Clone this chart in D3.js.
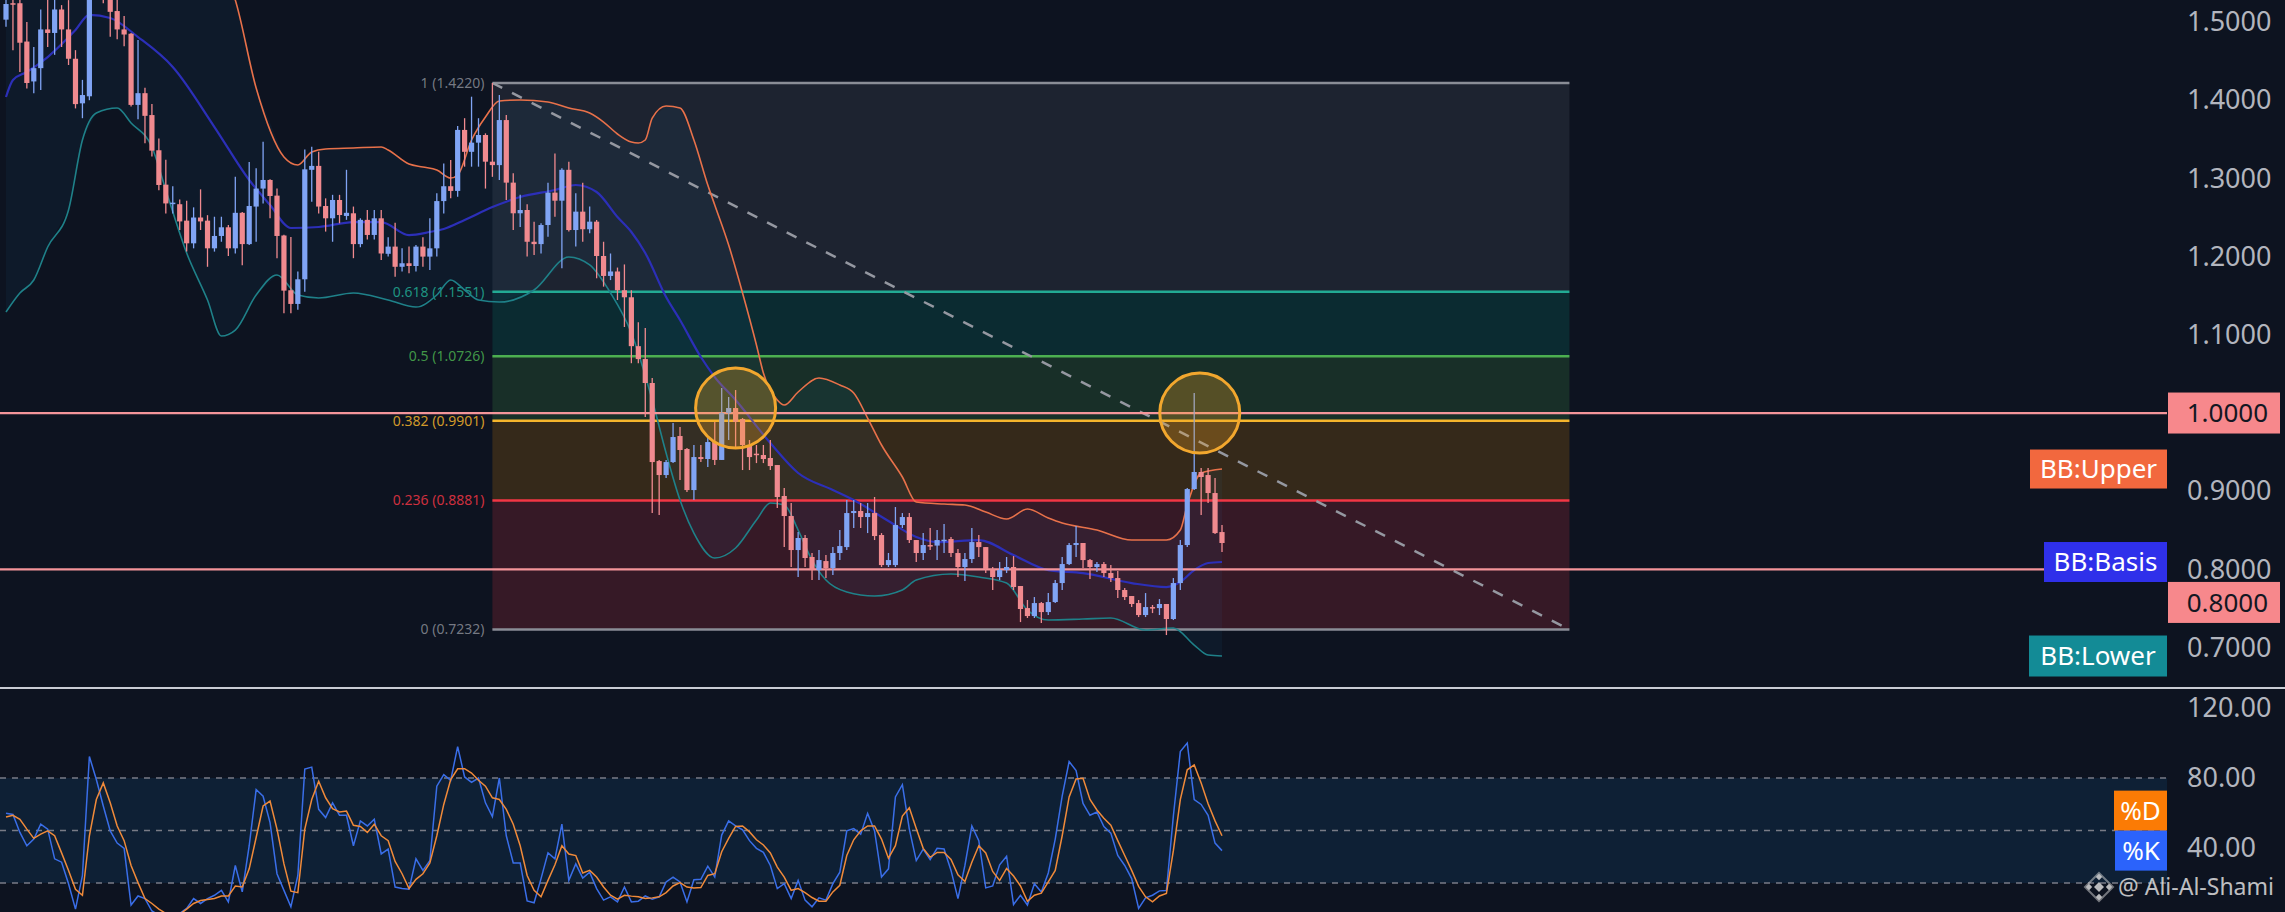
<!DOCTYPE html>
<html>
<head>
<meta charset="utf-8">
<script src="https://cdn.jsdelivr.net/npm/d3@7"></script>
<style>
  html, body { margin: 0; padding: 0; background: #0d1320; }
  svg { display: block; }
</style>
</head>
<body>
<div id="chart"></div>
<script>
// Candles (index 0..175)
const opens = [1.503,1.524,1.524,1.475,1.424,1.441,1.4905,1.486,1.516,1.4905,
  1.453,1.396,1.405,1.535,1.560,1.545,1.514,1.4905,1.485,1.394,
  1.409,1.381,1.336,1.292,1.268,1.267,1.246,1.217,1.250,1.246,
  1.2106,1.2264,1.2375,1.2106,1.256,1.216,1.264,1.287,1.298,1.278,
  1.227,1.157,1.1395,1.171,1.311,1.316,1.2647,1.249,1.2724,1.252,
  1.2554,1.216,1.247,1.2277,1.249,1.2036,1.2128,1.187,1.1915,1.188,
  1.2128,1.200,1.2106,1.271,1.290,1.284,1.362,1.334,1.3457,1.3555,
  1.3214,1.317,1.3746,1.2946,1.2554,1.2596,1.219,1.216,1.2404,1.2818,
  1.2715,1.311,1.234,1.2575,1.235,1.2447,1.2008,1.1753,1.181,1.157,
  1.148,1.0855,1.069,1.0384,0.9386,0.9207,0.9373,0.9706,0.954,0.9015,
  0.9437,0.9412,0.9629,0.940,1.000,1.0064,0.9923,0.9591,0.948,0.9463,
  0.9425,0.9335,0.8939,0.8683,0.8248,0.8402,0.8159,0.7992,0.8107,0.8018,
  0.821,0.8286,0.8721,0.8747,0.867,0.8721,0.844,0.8056,0.8056,0.8568,
  0.867,0.8376,0.821,0.8312,0.8305,0.8376,0.8389,0.821,0.8031,0.8133,
  0.835,0.8286,0.8005,0.7903,0.7992,0.8031,0.7788,0.7506,0.7404,0.757,
  0.7455,0.7583,0.7826,0.8069,0.8312,0.8338,0.812,0.8031,0.8069,0.7954,
  0.789,0.7737,0.766,0.757,0.7417,0.7519,0.7506,0.7558,0.7366,0.7826,
  0.8312,0.9028,0.9246,0.9207,0.8977,0.8478];
const highs = [1.532,1.535,1.540,1.500,1.468,1.516,1.528,1.535,1.5216,1.528,
  1.464,1.426,1.545,1.575,1.570,1.550,1.528,1.5076,1.486,1.477,
  1.416,1.395,1.351,1.324,1.290,1.273,1.2715,1.263,1.286,1.253,
  1.251,1.251,1.2404,1.302,1.257,1.321,1.313,1.347,1.299,1.287,
  1.228,1.225,1.181,1.337,1.3406,1.334,1.2745,1.279,1.279,1.311,
  1.264,1.249,1.2596,1.2596,1.2596,1.2247,1.2434,1.2106,1.2128,1.215,
  1.2247,1.249,1.281,1.319,1.3235,1.367,1.377,1.4045,1.377,1.3576,
  1.422,1.4066,1.381,1.3065,1.279,1.267,1.2447,1.2426,1.2946,1.332,
  1.313,1.3214,1.281,1.2946,1.264,1.2468,1.219,1.204,1.186,1.190,
  1.157,1.116,1.1087,1.0448,0.9399,0.940,0.9872,0.9821,0.9552,0.9591,
  0.9591,0.9693,0.9885,1.032,1.0205,1.0294,0.9936,0.9655,0.9591,0.9591,
  0.9655,0.9335,0.9041,0.8849,0.8478,0.844,0.821,0.8248,0.8184,0.8286,
  0.8504,0.8887,0.8887,0.8849,0.8849,0.8926,0.8465,0.821,0.8798,0.8721,
  0.8721,0.8376,0.8465,0.853,0.8504,0.8581,0.8414,0.8261,0.821,0.853,
  0.844,0.8286,0.8031,0.8095,0.8159,0.8171,0.7788,0.7609,0.7647,0.7583,
  0.7698,0.7864,0.8159,0.8338,0.8555,0.8338,0.8133,0.8095,0.8095,0.8056,
  0.798,0.7762,0.766,0.7609,0.7698,0.7545,0.7621,0.7558,0.789,0.8376,
  0.9041,1.0256,0.9297,0.9297,0.9169,0.8568];
const lows = [1.494,1.464,1.436,1.415,1.409,1.413,1.468,1.458,1.468,1.445,
  1.3895,1.377,1.400,1.530,1.524,1.481,1.478,1.469,1.392,1.3755,
  1.345,1.328,1.285,1.255,1.255,1.234,1.2064,1.2106,1.234,1.187,
  1.2064,1.219,1.2008,1.204,1.189,1.215,1.219,1.268,1.249,1.198,
  1.1276,1.1276,1.132,1.155,1.270,1.255,1.232,1.219,1.2426,1.247,
  1.198,1.212,1.222,1.222,1.1957,1.200,1.1744,1.181,1.1787,1.181,
  1.187,1.183,1.200,1.255,1.2745,1.2767,1.315,1.315,1.315,1.287,
  1.302,1.298,1.2724,1.234,1.238,1.200,1.202,1.204,1.2255,1.251,
  1.185,1.232,1.2128,1.219,1.230,1.1723,1.1616,1.170,1.1445,1.110,
  1.0637,1.0637,0.9949,0.8721,0.8696,0.9169,0.936,0.9143,0.899,0.8887,
  0.9373,0.9309,0.9335,0.940,0.9655,0.9552,0.9271,0.9271,0.936,0.936,
  0.9271,0.8785,0.8286,0.8031,0.7903,0.8031,0.7864,0.7864,0.789,0.7928,
  0.812,0.8248,0.853,0.853,0.8465,0.8376,0.8031,0.8031,0.8031,0.853,
  0.8338,0.8095,0.812,0.8248,0.812,0.821,0.8159,0.7903,0.7852,0.8082,
  0.8159,0.7954,0.7737,0.7864,0.7954,0.7737,0.7327,0.7379,0.7379,0.7315,
  0.7417,0.757,0.7737,0.8056,0.8159,0.8018,0.7877,0.7967,0.7903,0.7839,
  0.7634,0.7609,0.7519,0.7391,0.7391,0.7442,0.7417,0.7161,0.7353,0.7737,
  0.8286,0.9015,0.8696,0.8849,0.8453,0.8223];
const closes = [1.523,1.523,1.4735,1.422,1.441,1.4905,1.486,1.516,1.4905,1.453,
  1.395,1.4066,1.535,1.560,1.545,1.513,1.4905,1.484,1.394,1.409,
  1.380,1.3355,1.2916,1.268,1.269,1.245,1.217,1.250,1.245,1.2106,
  1.2264,1.2375,1.2106,1.256,1.216,1.2647,1.287,1.298,1.2775,1.2264,
  1.1565,1.1395,1.171,1.3116,1.316,1.264,1.249,1.2724,1.2532,1.256,
  1.216,1.247,1.2277,1.249,1.204,1.2128,1.187,1.1915,1.188,1.2128,
  1.200,1.2106,1.271,1.290,1.284,1.362,1.334,1.3457,1.3555,1.3214,
  1.317,1.3746,1.2946,1.2554,1.2596,1.219,1.216,1.2404,1.2818,1.2715,
  1.311,1.234,1.2575,1.235,1.2447,1.2008,1.1753,1.181,1.157,1.148,
  1.0855,1.069,1.0384,0.9373,0.9207,0.9373,0.9693,0.9527,0.9015,0.9437,
  0.9412,0.9629,0.940,1.000,1.0064,0.9885,0.9591,0.9437,0.947,0.9412,
  0.9322,0.8926,0.8683,0.8248,0.8402,0.8146,0.7992,0.812,0.8018,0.821,
  0.8299,0.8721,0.8747,0.867,0.8721,0.8427,0.8056,0.812,0.8568,0.867,
  0.8376,0.821,0.8312,0.8305,0.8376,0.838,0.821,0.8031,0.8133,0.835,
  0.8286,0.8005,0.7903,0.7992,0.8031,0.7775,0.7494,0.7404,0.757,0.7455,
  0.7583,0.7826,0.8069,0.8312,0.8338,0.812,0.8031,0.8069,0.7954,0.789,
  0.7737,0.7647,0.7558,0.7417,0.7519,0.7506,0.7558,0.7366,0.7826,0.8312,
  0.9028,0.9246,0.9182,0.8977,0.8465,0.8338];

// Bollinger bands, read at the candle indices where the curve was measured
const upperIdx = [0,6,12,19,24,30,33,36,40,42,44,46,50,54,55,58,60,62,64,65,67,69,71,74,78,81,84,86,88,90,91,92,93,95,97,99,101,102,104,106,108,109,111,112,114,117,120,122,124,126,129,131,135,138,141,144,147,150,152,157,162,167,169,170,172,175];
const upperVal = [1.679,1.698,1.639,1.619,1.6125,1.587,1.528,1.4156,1.3274,1.3171,1.3338,1.3376,1.3389,1.3402,1.3363,1.3184,1.3146,1.3107,1.3005,1.3043,1.3491,1.3785,1.399,1.4003,1.3977,1.39,1.3836,1.3721,1.3568,1.3465,1.3453,1.3491,1.3772,1.3926,1.39,1.3491,1.2916,1.266,1.2148,1.1535,1.087,1.0512,1.0166,1.0102,1.0269,1.0448,1.0358,1.0256,0.9936,0.9591,0.9182,0.8862,0.8836,0.8824,0.8734,0.8645,0.8772,0.8657,0.8593,0.8504,0.8376,0.8376,0.8504,0.8824,0.9233,0.9284];
const basisIdx = [0,1,3,6,10,12,15,19,24,30,35,38,41,45,50,54,58,61,63,66,70,74,79,82,85,88,90,92,95,97,100,102,105,110,114,119,122,127,131,134,140,145,150,155,162,167,169,171,173,175];
const basisVal = [1.4041,1.4258,1.4361,1.4552,1.4898,1.509,1.5051,1.4808,1.4425,1.3657,1.298,1.266,1.2366,1.2379,1.2442,1.2442,1.2276,1.2315,1.2353,1.2468,1.2634,1.2762,1.2852,1.2916,1.2826,1.2506,1.2315,1.2046,1.1483,1.1189,1.0716,1.046,1.0166,0.9616,0.9233,0.9015,0.8887,0.8619,0.8414,0.835,0.8376,0.8184,0.7992,0.7954,0.7826,0.7775,0.7839,0.7992,0.8082,0.8095];
const lowerIdx = [0,2,4,6,9,11,13,16,18,21,23,26,29,31,33,36,39,42,45,50,55,59,62,64,66,68,71,76,81,84,87,90,93,95,97,99,102,105,108,110,112,114,116,118,121,125,129,131,136,140,144,147,150,155,159,164,168,171,173,175];
const lowerVal = [1.1292,1.1535,1.1701,1.2123,1.2596,1.3491,1.3836,1.39,1.3708,1.3402,1.2852,1.2046,1.1445,1.0985,1.1061,1.1509,1.1765,1.1509,1.1471,1.1535,1.1445,1.1355,1.1509,1.1701,1.1573,1.1445,1.1419,1.1573,1.1995,1.1893,1.1535,1.1023,1.0166,0.9488,0.8887,0.8465,0.8146,0.8274,0.8632,0.8849,0.8824,0.8504,0.812,0.7864,0.7711,0.766,0.7737,0.7864,0.7941,0.7903,0.7826,0.7481,0.7353,0.7366,0.7379,0.7225,0.7251,0.7033,0.6905,0.6893];

// Stochastic %K and %D, one value per candle
const stochK = [59.8,59.2,48.9,41.3,45.1,53.6,50.8,33.8,31.9,19.6,
  5.1,24.3,92.3,79.1,64,49.8,42.8,39.8,7.4,12.6,
  11.1,4,1.7,0.8,1.7,2.6,5.5,11.1,8.3,11.1,
  13,15.8,9.2,30,14.9,41.3,73.4,69.6,54.5,25.3,
  15.8,6.4,24.3,85.1,86.2,62.1,57.4,65.8,58.7,58.7,
  41.3,55.5,52.6,56.4,36.6,39.4,17.7,16.8,16.4,33.8,
  27.2,32.8,75.3,81.9,78.7,97.9,80.6,77.5,80,65.8,
  57.9,80,47,31.5,31.5,9.8,8.7,22.5,37.2,33.8,
  53.6,21.5,30.9,22.8,26.2,16.8,10.2,12.1,
  9.2,17.7,9.2,9.6,12.6,10.8,12.1,20.6,23.4,20.6,
  9.2,21.9,22.1,29.6,23.4,47.4,55.5,52.6,50.4,44.2,
  39.8,37.5,30,16.8,19.6,11.1,21.5,10.2,6.4,11.5,
  10.2,19.6,26.2,49.8,51.1,47.9,59.8,49.8,23.4,28.1,
  69.2,76.2,50.8,32.8,39.4,33.4,39.8,39.4,27.2,11.1,
  30,52.6,44.2,17.2,18.3,30.4,35.3,7.7,13,7.4,
  19.6,14.9,25.7,45.1,69.6,89.4,84.3,65.5,58.7,60.6,
  52.3,48.5,35.7,30,22.5,5.5,11.5,13,15.5,15.7,
  58.3,95.1,100,67.7,64.9,58.7,42.8,38.5];
const stochD = [57.7,58.7,56.4,50.8,45.5,47.9,49.8,47,37.2,27.2,
  16.4,13,47,67.7,77.2,65.8,52.6,44.2,30,20.2,
  11.1,8.3,5.1,2.6,1.7,2.1,5.1,8.3,10,10.6,
  11.1,12.6,12.6,18.3,17.7,28.1,46,64,66.8,50.8,
  30.9,15.3,14.5,50.8,67.7,78.1,68.7,62.5,60.6,61.1,
  53,52.3,48.9,53.6,47,44.2,32.3,25.3,16.8,22.1,
  25.3,31.5,47,64.9,79.1,85.3,85.3,82.8,78.7,75.3,
  68.7,67.7,62.1,53.6,41.3,24.3,15.8,12.1,21.5,30.4,
  41.3,36.6,35.7,25.7,27.2,23.4,17.7,13,
  10.8,13,12.5,12.1,11.1,11.5,12.1,14.5,18.3,20.2,
  17.7,17.2,17.4,24.3,25.3,37.9,45.5,52.3,52.6,49.2,
  44.7,41.7,37.2,29.1,23.4,15.8,16.8,14.5,11.7,9.6,
  9.6,14.9,18.7,35.7,44.7,49.8,52.6,52.6,45.1,34.2,
  41.3,58.3,63,51.1,39.8,34.7,37.5,37.5,33.4,24.7,
  20.9,31.9,41.3,37.2,26.6,21.5,28.3,24,18.3,9.6,
  13,14.2,20.6,27.2,47,69.2,79.4,79.8,67.7,61.7,
  57,53,44.2,35.7,27.2,18.1,12.1,9.2,12.6,14,
  38.5,67.7,84.7,87.5,77.2,65.3,55.5,47];

// Fibonacci retracement drawing
const fibRatios = [1, 0.618, 0.5, 0.382, 0.236, 0];
const fibPrices = [1.4220, 1.1551, 1.0726, 0.9901, 0.8881, 0.7232];
const fibColors = ['#8a8d96', '#22ab94', '#4caf50', '#f5b52c', '#f23645', '#8a8d96'];
const fibFills  = ['#787b86', '#089981', '#4caf50', '#ff9800', '#f23645'];
const fibStartIdx = 70, fibEndIdx = 225;

const hLevels = [1.0, 0.8];
const circleMarks = [{ i: 105, p: 1.0064 }, { i: 171.8, p: 1.0 }];
const priceTicks = [0.7, 0.8, 0.9, 1.0, 1.1, 1.2, 1.3, 1.4, 1.5];
const stochTicks = [40, 80, 120];
const stochBands = [80, 50, 20];

const W = 2285, H = 912;
const plotR = 2167;      // right edge of plot panes
const sepY = 688;        // pane separator
const FONT = '"Noto Sans", "Open Sans", sans-serif';

const x = d3.scaleLinear().domain([0, 175]).range([6, 1222]);
const y = d3.scaleLinear().domain([0.7232, 1.4220]).range([629.5, 83]);
const ys = d3.scaleLinear().domain([0, 120]).range([918, 708]);

const svg = d3.select('#chart').append('svg')
  .attr('width', W).attr('height', H)
  .style('background', '#0d1320');

const defs = svg.append('defs');
defs.append('clipPath').attr('id', 'clipPrice')
  .append('rect').attr('x', 0).attr('y', 0).attr('width', plotR).attr('height', sepY - 1);
defs.append('clipPath').attr('id', 'clipStoch')
  .append('rect').attr('x', 0).attr('y', sepY + 1).attr('width', plotR).attr('height', H - sepY);

const gp = svg.append('g').attr('clip-path', 'url(#clipPrice)');

// Fib zones
const fx0 = x(fibStartIdx), fx1 = x(fibEndIdx);
fibFills.forEach((c, k) => {
  gp.append('rect')
    .attr('x', fx0).attr('width', fx1 - fx0)
    .attr('y', y(fibPrices[k])).attr('height', y(fibPrices[k + 1]) - y(fibPrices[k]))
    .attr('fill', c).attr('fill-opacity', k === 0 ? 0.16 : (k === 3 ? 0.17 : 0.18));
});

// BB fill between upper and lower
const bandPts = upperIdx.map((d, k) => [x(d), y(upperVal[k])])
  .concat(lowerIdx.map((d, k) => [x(d), y(lowerVal[k])]).reverse());
gp.append('path')
  .attr('d', d3.line().curve(d3.curveLinear)(bandPts) + 'Z')
  .attr('fill', '#2196f3').attr('fill-opacity', 0.05);

// Fib lines and labels
fibPrices.forEach((p, k) => {
  gp.append('line')
    .attr('x1', fx0).attr('x2', fx1)
    .attr('y1', y(p)).attr('y2', y(p))
    .attr('stroke', fibColors[k]).attr('stroke-width', 2.5);
  gp.append('text')
    .attr('x', fx0 - 8).attr('y', y(p)).attr('dy', '0.35em')
    .attr('text-anchor', 'end')
    .attr('font-family', FONT).attr('font-size', 14)
    .attr('fill', fibColors[k]).attr('fill-opacity', 0.85)
    .text(`${fibRatios[k]} (${p.toFixed(4)})`);
});

// Trend line (dashed) across the fib box
gp.append('line')
  .attr('x1', fx0).attr('y1', y(fibPrices[0]))
  .attr('x2', fx1).attr('y2', y(fibPrices[5]))
  .attr('stroke', '#9598a1').attr('stroke-width', 2.5)
  .attr('stroke-dasharray', '11,11');

// Bollinger lines
const bbLine = (idx, vals) => d3.line().curve(d3.curveMonotoneX)
  .x((d, k) => x(idx[k])).y((d, k) => y(vals[k]))(vals);
gp.append('path').attr('d', bbLine(upperIdx, upperVal))
  .attr('fill', 'none').attr('stroke', '#e8714a').attr('stroke-width', 1.6);
gp.append('path').attr('d', bbLine(lowerIdx, lowerVal))
  .attr('fill', 'none').attr('stroke', '#1f8189').attr('stroke-width', 1.6);
gp.append('path').attr('d', bbLine(basisIdx, basisVal))
  .attr('fill', 'none').attr('stroke', '#2c2fb8').attr('stroke-width', 2.2);

// Horizontal levels
hLevels.forEach(p => {
  gp.append('line')
    .attr('x1', 0).attr('x2', plotR)
    .attr('y1', y(p)).attr('y2', y(p))
    .attr('stroke', '#f4959a').attr('stroke-width', 2.2);
});

// Candles
const cdata = opens.map((o, i) => ({ i, o, h: highs[i], l: lows[i], c: closes[i] }));
const UP = '#80a4f4', DN = '#f08a8f';
const cg = gp.append('g');
cg.selectAll('line.wick').data(cdata).enter().append('line')
  .attr('x1', d => x(d.i)).attr('x2', d => x(d.i))
  .attr('y1', d => y(d.h)).attr('y2', d => y(d.l))
  .attr('stroke', d => d.c >= d.o ? UP : DN).attr('stroke-width', 1.3);
cg.selectAll('rect.body').data(cdata).enter().append('rect')
  .attr('x', d => x(d.i) - 2.6).attr('width', 5.2)
  .attr('y', d => y(Math.max(d.o, d.c)))
  .attr('height', d => Math.max(1.5, Math.abs(y(d.o) - y(d.c))))
  .attr('fill', d => d.c >= d.o ? UP : DN);

// Circle highlights
gp.selectAll('circle.mark').data(circleMarks).enter().append('circle')
  .attr('cx', d => x(d.i)).attr('cy', d => y(d.p)).attr('r', 40)
  .attr('fill', '#f5a623').attr('fill-opacity', 0.28)
  .attr('stroke', '#f2a72e').attr('stroke-width', 3);

// Pane separator
svg.append('line').attr('x1', 0).attr('x2', W).attr('y1', sepY).attr('y2', sepY)
  .attr('stroke', '#c9ccd4').attr('stroke-width', 2);

// Stochastic pane
const gs = svg.append('g').attr('clip-path', 'url(#clipStoch)');
gs.append('rect').attr('x', 0).attr('width', plotR)
  .attr('y', ys(80)).attr('height', ys(20) - ys(80))
  .attr('fill', '#2196f3').attr('fill-opacity', 0.1);
stochBands.forEach(v => {
  gs.append('line').attr('x1', 0).attr('x2', plotR)
    .attr('y1', ys(v)).attr('y2', ys(v))
    .attr('stroke', '#787b86').attr('stroke-width', 1.3)
    .attr('stroke-dasharray', '6,6');
});
const sLine = d3.line().x((d, i) => x(i)).y(d => ys(d));
gs.append('path').attr('d', sLine(stochK))
  .attr('fill', 'none').attr('stroke', '#3a6ee8').attr('stroke-width', 1.5);
gs.append('path').attr('d', sLine(stochD))
  .attr('fill', 'none').attr('stroke', '#f08a3a').attr('stroke-width', 1.5);

// Axes
const axisP = svg.append('g').attr('transform', `translate(2187,0)`)
  .call(d3.axisRight(y).tickValues(priceTicks).tickFormat(d3.format('.4f')).tickSize(0).tickPadding(0));
const axisS = svg.append('g').attr('transform', `translate(2187,0)`)
  .call(d3.axisRight(ys).tickValues(stochTicks).tickFormat(d3.format('.2f')).tickSize(0).tickPadding(0));
[axisP, axisS].forEach(a => {
  a.select('.domain').remove();
  a.selectAll('text').attr('font-family', FONT).attr('font-size', 27)
    .attr('fill', '#b2b5be').attr('text-anchor', 'start');
});

// Label boxes
function tag(x0, x1, cy, h, fill, txt, color, anchor) {
  svg.append('rect').attr('x', x0).attr('y', cy - h / 2).attr('width', x1 - x0).attr('height', h).attr('fill', fill);
  svg.append('text')
    .attr('x', anchor === 'end' ? x1 - 12 : (x0 + x1) / 2)
    .attr('y', cy).attr('dy', '0.35em')
    .attr('text-anchor', anchor || 'middle')
    .attr('font-family', FONT).attr('font-size', 26)
    .attr('fill', color).text(txt);
}
tag(2168, 2280, y(1.0), 41, '#f7888c', '1.0000', '#131722', 'end');
tag(2168, 2280, y(0.8) + 33, 41, '#f7888c', '0.8000', '#131722', 'end');
tag(2030, 2167, y(upperVal[upperVal.length - 1]), 39, '#f2683e', 'BB:Upper', '#ffffff');
tag(2044, 2167, y(basisVal[basisVal.length - 1]), 40, '#2f30ea', 'BB:Basis', '#ffffff');
tag(2029, 2167, y(lowerVal[lowerVal.length - 1]), 41, '#138b96', 'BB:Lower', '#ffffff');
tag(2114, 2167, ys(stochK[175]) - 40, 40, '#fb7b05', '%D', '#ffffff');
tag(2115, 2167, ys(stochK[175]), 40, '#2b63fb', '%K', '#ffffff');

// Watermark
const wm = svg.append('g').attr('transform', 'translate(2099,887)').attr('fill', '#d8d8d8').attr('fill-opacity', 0.85);
const dmd = (cx, cy, r) => `M${cx},${cy - r}L${cx + r},${cy}L${cx},${cy + r}L${cx - r},${cy}Z`;
wm.append('path').attr('d', dmd(0, 0, 5));
wm.append('path').attr('d', dmd(0, -10, 3.2));
wm.append('path').attr('d', dmd(0, 10, 3.2));
wm.append('path').attr('d', dmd(-10, 0, 3.2));
wm.append('path').attr('d', dmd(10, 0, 3.2));
wm.append('path').attr('d', 'M0,-14L14,0L0,14L-14,0Z').attr('fill', 'none')
  .attr('stroke', '#d8d8d8').attr('stroke-width', 2).attr('stroke-opacity', 0.5);
svg.append('text').attr('x', 2118).attr('y', 887).attr('dy', '0.35em')
  .attr('font-family', FONT).attr('font-size', 24).attr('fill', '#e0e0e0').attr('fill-opacity', 0.85)
  .attr('textLength', 156).attr('lengthAdjust', 'spacingAndGlyphs')
  .text('@ Ali-Al-Shami');
</script>
</body>
</html>
